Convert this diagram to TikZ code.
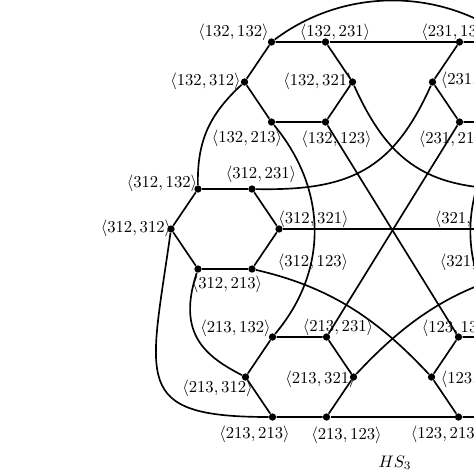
\documentclass[tikz,border=0pt]{standalone}
\begin{document}
\begin{tikzpicture}[x=0.6pt,y=-0.6pt,
  dot/.style={circle,fill=black,inner sep=0pt,minimum size=4.4pt},
  lab/.style={inner sep=0pt},
  edge/.style={line width=1pt}]
\useasboundingbox (0,0) rectangle (474,474);
\clip (0,0) rectangle (474,474);
% vertices of the six hexagons
\foreach \h/\cx/\cy in {132/298.5/82, 312/225/229, 213/299.5/377, 231/486.5/82, 321/560/229, 123/485.5/377} {
  \foreach \v/\dx/\dy in {312/-54/0, 132/-27/-40, 231/27/-40, 321/54/0, 123/27/40, 213/-27/40}
    \node[dot] (n\h x\v) at ({\cx+\dx},{\cy+\dy}) {};
}
% hexagon edges
\foreach \h in {132,312,213,231,321,123} {
  \draw[edge] (n\h x312) -- (n\h x132) -- (n\h x231) -- (n\h x321) -- (n\h x123) -- (n\h x213) -- (n\h x312);
}
% connecting edges
\draw[edge] (n132x132) .. controls +(72.5,-54.6) and +(-72.5,-54.6) .. (n231x231);
\draw[edge] (n132x231) -- (n231x132);
\draw[edge] (n132x312) .. controls +(-34.5,32) and +(-1,-49) .. (n312x132);
\draw[edge] (n132x321) .. controls +(39.5,88) and +(-98,2) .. (n321x132);
\draw[edge] (n132x123) -- (n123x132);
\draw[edge] (n132x213) .. controls +(55.5,67) and +(56.5,-67) .. (n213x132);
\draw[edge] (n312x312) .. controls +(-21,151) and +(-142.5,0) .. (n213x213);
\draw[edge] (n312x231) .. controls +(98,2) and +(-39.5,88) .. (n231x312);
\draw[edge] (n312x321) -- (n321x312);
\draw[edge] (n312x123) .. controls +(78,18) and +(-54.6,-58.5) .. (n123x312);
\draw[edge] (n312x213) .. controls +(-21.5,65) and +(-40,-20.7) .. (n213x312);
\draw[edge] (n213x231) -- (n231x213);
\draw[edge] (n213x321) .. controls +(54.6,-58.5) and +(-78,18) .. (n321x213);
\draw[edge] (n213x123) -- (n123x213);
\draw[edge] (n231x321) .. controls +(34.5,32) and +(1,-49) .. (n321x231);
\draw[edge] (n231x123) .. controls +(-55.5,67) and +(-56.5,-67) .. (n123x231);
\draw[edge] (n321x321) .. controls +(21,151) and +(142.5,0) .. (n123x123);
\draw[edge] (n321x123) .. controls +(21.5,65) and +(40,-20.7) .. (n123x321);
% labels
\node[lab] (l132x132) at (233.5,32) {$\langle 132, 132\rangle$};
\node[lab] (l132x231) at (335,32) {$\langle 132, 231\rangle$};
\node[lab] (l132x312) at (205.5,81) {$\langle 132, 312\rangle$};
\node[lab] (l132x321) at (318.5,81) {$\langle 132, 321\rangle$};
\node[lab] (l132x213) at (247,138) {$\langle 132, 213\rangle$};
\node[lab] (l132x123) at (336.5,139) {$\langle 132, 123\rangle$};
\node[lab] (l231x132) at (456.5,32) {$\langle 231, 132\rangle$};
\node[lab] (l231x312) at (476,80) {$\langle 231, 312\rangle$};
\node[lab] (l231x213) at (454,139) {$\langle 231, 213\rangle$};
\node[lab] (l312x132) at (162,183) {$\langle 312, 132\rangle$};
\node[lab] (l312x231) at (261,174) {$\langle 312, 231\rangle$};
\node[lab] (l312x312) at (136,228) {$\langle 312, 312\rangle$};
\node[lab] (l312x321) at (313.5,219) {$\langle 312, 321\rangle$};
\node[lab] (l312x123) at (313,262) {$\langle 312, 123\rangle$};
\node[lab] (l312x213) at (227,284) {$\langle 312, 213\rangle$};
\node[lab] (l321x312) at (470,219) {$\langle 321, 312\rangle$};
\node[lab] (l321x213) at (475,262) {$\langle 321, 213\rangle$};
\node[lab] (l213x132) at (235.5,328) {$\langle 213, 132\rangle$};
\node[lab] (l213x231) at (338,327) {$\langle 213, 231\rangle$};
\node[lab] (l213x312) at (217.5,388) {$\langle 213, 312\rangle$};
\node[lab] (l213x321) at (320.5,379) {$\langle 213, 321\rangle$};
\node[lab] (l213x213) at (254.5,434) {$\langle 213, 213\rangle$};
\node[lab] (l213x123) at (346.5,435) {$\langle 213, 123\rangle$};
\node[lab] (l123x132) at (457,328) {$\langle 123, 132\rangle$};
\node[lab] (l123x312) at (476,379) {$\langle 123, 312\rangle$};
\node[lab] (l123x213) at (446,434) {$\langle 123, 213\rangle$};
\node[lab] (title) at (395,463) {$HS_3$};
\end{tikzpicture}
\end{document}
